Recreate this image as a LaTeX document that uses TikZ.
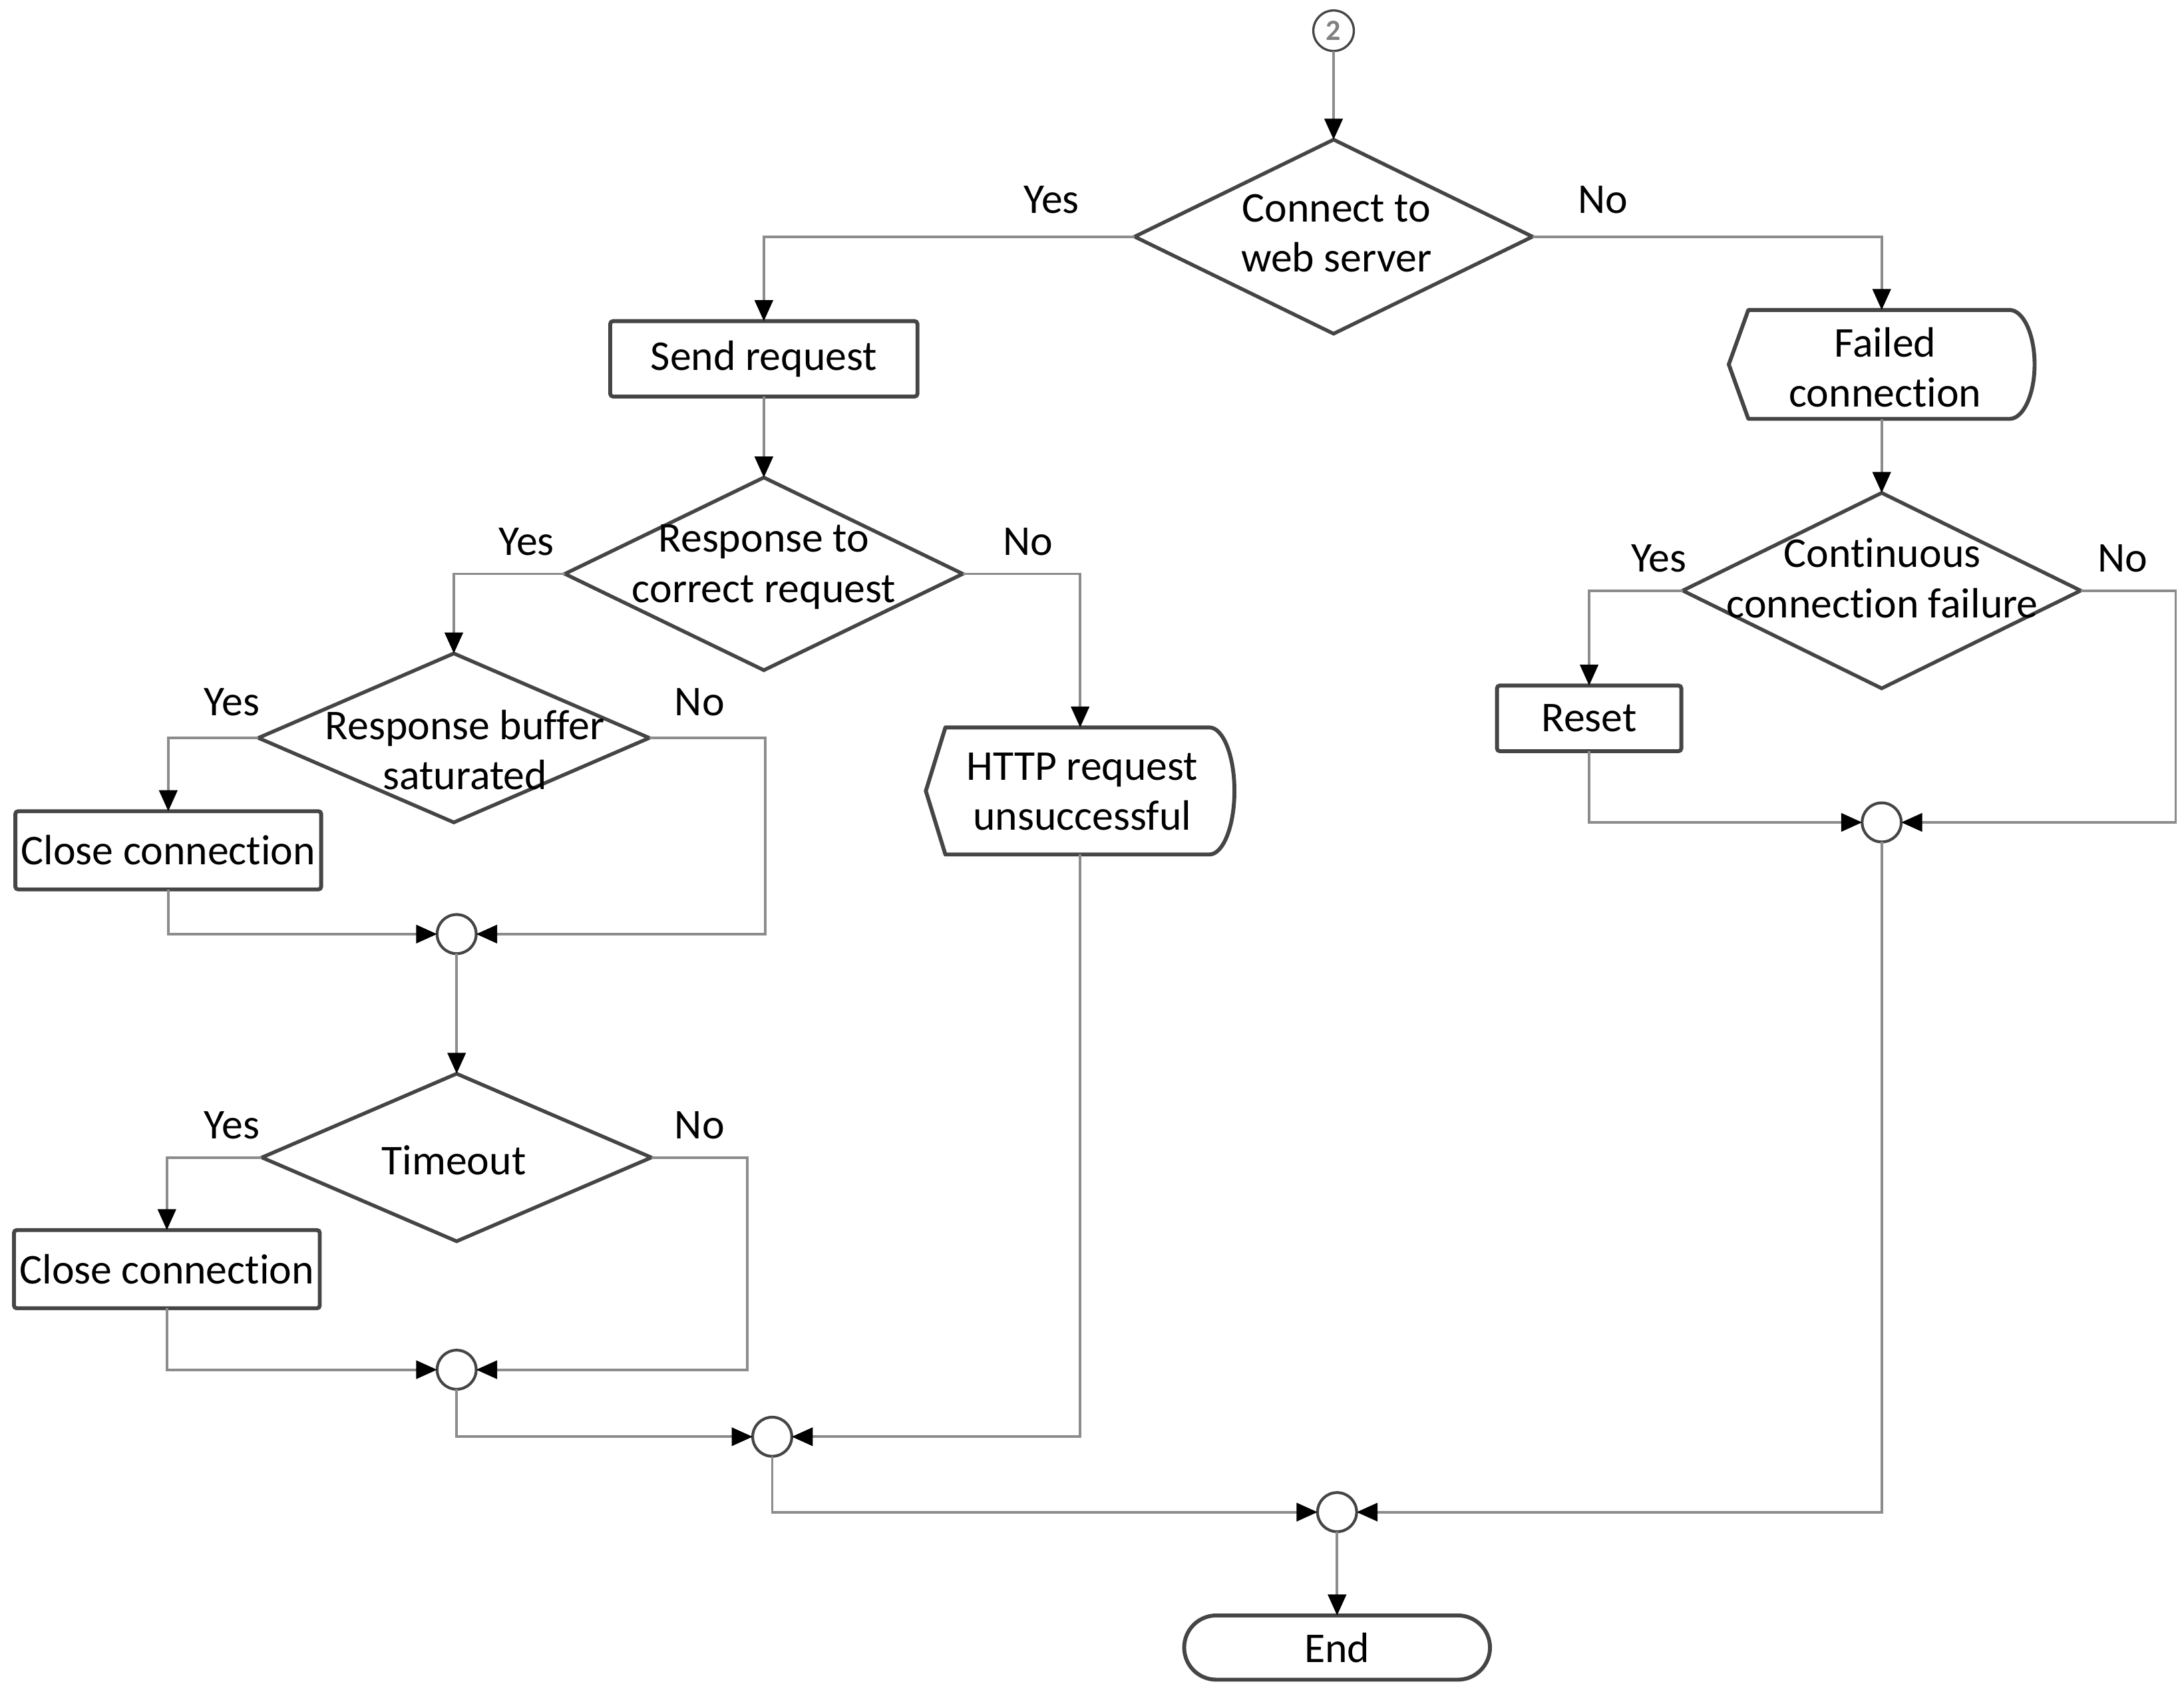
\documentclass[tikz,border=0pt]{standalone}
\usepackage{fontspec}
\setmainfont{Carlito}[Ligatures=NoCommon]
\usetikzlibrary{arrows.meta,shapes.geometric,calc}
\definecolor{linegray}{HTML}{8C8C8C}
\definecolor{shapegray}{HTML}{454545}
\begin{document}
\begin{tikzpicture}[x=1pt,y=-1pt,
  txt/.style={align=center, inner sep=0pt, outer sep=0pt, font=\fontsize{30.4}{36}\selectfont},
  lbl/.style={inner sep=0pt, font=\fontsize{30.4}{36}\selectfont},
  box/.style={txt, draw=shapegray, line width=2.8pt, fill=white, rounded corners=2pt},
  dia/.style={diamond, draw=shapegray, line width=2.6pt, fill=white, inner sep=0pt, outer sep=0pt},
  jn/.style={circle, draw=shapegray, line width=2pt, fill=white, minimum size=28pt, inner sep=0pt, outer sep=0pt},
  disp/.style={draw=shapegray, line width=2.8pt, fill=white, line join=round},
  conn/.style={linegray, line width=1.8pt, -{Triangle[length=15pt,width=13pt,color=black]}}
]
\useasboundingbox (0,0) rectangle (1564,1210.4);

% start connector
\node[jn, line width=1.6pt, minimum size=29pt] (start) at (955,22) {\fontsize{21}{21}\selectfont\bfseries\color{gray}2};

% top decision
\node[dia, minimum width=285pt, minimum height=139pt] (d1) at (955,169.5) {};
\node[txt] (d1t) at (957,167) {Connect to\\web server};
\node[lbl] (y1) at (753,143) {Yes};
\node[lbl] (n1) at (1148,143) {No};

% left branch
\node[box, minimum width=220pt, minimum height=54pt] (send) at (547,257) {Send request};

\node[dia, minimum width=285pt, minimum height=138pt] (d2) at (547,411) {};
\node[txt] (d2t) at (547,406) {Response to\\correct request};
\node[lbl] (y2) at (377,388) {Yes};
\node[lbl] (n2) at (736,388) {No};

% HTTP request unsuccessful (display shape)
\node[inner sep=0pt, outer sep=0pt, minimum width=221pt, minimum height=91pt] (http) at (773.5,566.5) {};
\draw[disp] ($(http.north west)+(14,0)$) -- ($(http.north east)+(-18,0)$)
  arc[start angle=90, end angle=-90, x radius=18pt, y radius=45.5pt]
  -- ($(http.south west)+(14,0)$) -- (http.west) -- cycle;
\node[txt] (httpt) at (775,567) {HTTP request\\unsuccessful};

\node[dia, minimum width=280pt, minimum height=121pt] (d3) at (325,528.5) {};
\node[txt] (d3t) at (333,537) {Response buffer\\saturated};
\node[lbl] (y3) at (166,503) {Yes};
\node[lbl] (n3) at (501,503) {No};

\node[box, minimum width=219pt, minimum height=56pt] (close1) at (120.5,609) {Close connection};
\node[jn] (c1) at (327,669) {};

\node[dia, minimum width=279pt, minimum height=120pt] (d4) at (327,829) {};
\node[txt] (d4t) at (325,831) {Timeout};
\node[lbl] (y4) at (166,806) {Yes};
\node[lbl] (n4) at (501,806) {No};

\node[box, minimum width=219pt, minimum height=56pt] (close2) at (119.5,909) {Close connection};
\node[jn] (c2) at (327,981) {};
\node[jn] (c3) at (553,1029) {};
\node[jn] (c4) at (957.5,1083) {};

% right branch
\node[inner sep=0pt, outer sep=0pt, minimum width=219pt, minimum height=78pt] (fail) at (1347.5,261) {};
\draw[disp] ($(fail.north west)+(14,0)$) -- ($(fail.north east)+(-18,0)$)
  arc[start angle=90, end angle=-90, x radius=18pt, y radius=39pt]
  -- ($(fail.south west)+(14,0)$) -- (fail.west) -- cycle;
\node[txt] (failt) at (1350,263) {Failed\\connection};

\node[dia, minimum width=285pt, minimum height=140pt] (d5) at (1347.5,423) {};
\node[txt] (d5t) at (1348,414) {Continuous\\connection failure};
\node[lbl] (y5) at (1188,400) {Yes};
\node[lbl] (n5) at (1520,400) {No};

\node[box, minimum width=132pt, minimum height=47pt] (reset) at (1138,514.5) {Reset};
\node[jn] (c5) at (1347.5,589) {};

\node[box, rounded corners=23pt, minimum width=219pt, minimum height=46pt] (end) at (957.5,1180) {End};

% helper corners
\coordinate (k1) at (548,528.5);
\coordinate (k2) at (535,829);
\coordinate (k3) at (1558,423);

% connectors
\draw[conn] (start) -- (d1.north);
\draw[conn] (d1.west) -| (send.north);
\draw[conn] (d1.east) -| (fail.north);
\draw[conn] (send.south) -- (d2.north);
\draw[conn] (d2.west) -| (d3.north);
\draw[conn] (d2.east) -| (http.north);
\draw[conn] (d3.west) -| (close1.north);
\draw[conn] (d3.east) -- (k1) |- (c1.east);
\draw[conn] (close1.south) |- (c1.west);
\draw[conn] (c1.south) -- (d4.north);
\draw[conn] (d4.west) -| (close2.north);
\draw[conn] (d4.east) -- (k2) |- (c2.east);
\draw[conn] (close2.south) |- (c2.west);
\draw[conn] (c2.south) |- (c3.west);
\draw[conn] (http.south) |- (c3.east);
\draw[conn] (c3.south) |- (c4.west);
\draw[conn] (fail.south) -- (d5.north);
\draw[conn] (d5.west) -| (reset.north);
\draw[conn] (d5.east) -- (k3) |- (c5.east);
\draw[conn] (reset.south) |- (c5.west);
\draw[conn] (c5.south) |- (c4.east);
\draw[conn] (c4.south) -- (end.north);
\end{tikzpicture}
\end{document}
